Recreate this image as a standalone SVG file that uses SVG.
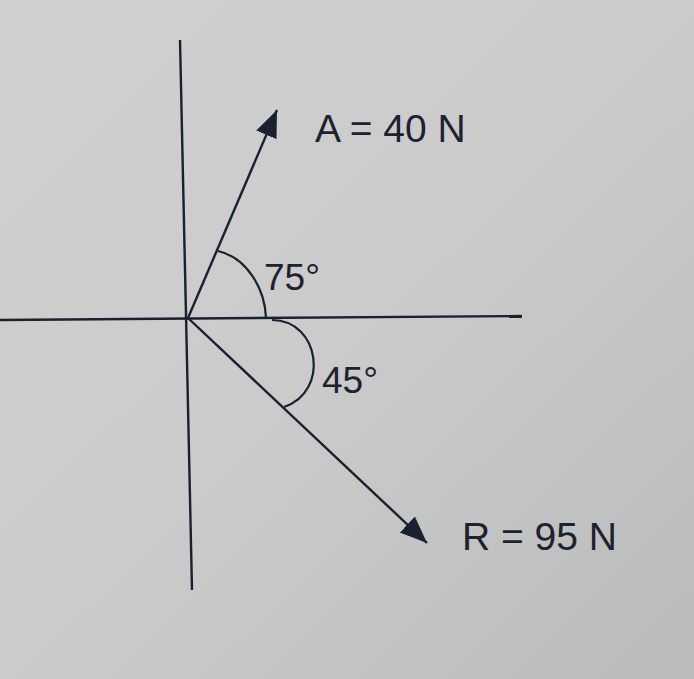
<svg xmlns="http://www.w3.org/2000/svg" width="694" height="679" viewBox="0 0 694 679">
  <defs>
    <linearGradient id="bg" x1="0" y1="0" x2="1" y2="1">
      <stop offset="0" stop-color="#cfd0cf"/>
      <stop offset="0.5" stop-color="#cacbca"/>
      <stop offset="1" stop-color="#b9baba"/>
    </linearGradient>
    <marker id="arrow" markerUnits="userSpaceOnUse" markerWidth="30" markerHeight="26" viewBox="0 -13 30 26" refX="27" refY="0" orient="auto">
      <path d="M0,-11 L27,0 L0,11 z" fill="#1b2030"/>
    </marker>
    <style>
      .ax { stroke: #1b2030; stroke-width: 2.4; fill: none; }
      .arc { stroke: #1b2030; stroke-width: 2.2; fill: none; }
      .lbl { font-family: "Liberation Sans", Arial, sans-serif; fill: #1e2230; }
    </style>
  </defs>
  <rect x="0" y="0" width="694" height="679" fill="url(#bg)"/>
  <g id="connectors">
    <line id="axis-y" class="ax" x1="180" y1="40" x2="192" y2="590"/>
    <line id="axis-x" class="ax" x1="0" y1="320" x2="522" y2="316"/>
    <line id="vector-A" class="ax" x1="188" y1="318" x2="277" y2="110" marker-end="url(#arrow)"/>
    <line id="vector-R" class="ax" x1="188" y1="318" x2="427" y2="543" marker-end="url(#arrow)"/>
  </g>
  <g id="angle-75">
    <path class="arc" d="M218,251 C248,258 265,290 266,318"/>
    <text class="lbl" x="264" y="290" font-size="37">75°</text>
  </g>
  <g id="angle-45">
    <path class="arc" d="M272,320 C320,320 330,392 284,407"/>
    <text class="lbl" x="322" y="393" font-size="37">45°</text>
  </g>
  <g id="label-A">
    <text class="lbl" x="315" y="142" font-size="39">A = 40 N</text>
  </g>
  <g id="label-R">
    <text class="lbl" x="462" y="550" font-size="39">R = 95 N</text>
  </g>
</svg>
